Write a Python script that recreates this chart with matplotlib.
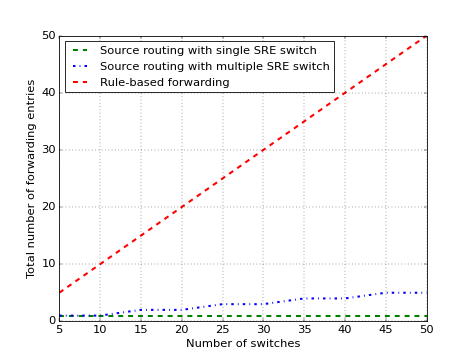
import matplotlib
matplotlib.use('Agg')
import matplotlib.pyplot as plt

switches = [5, 10, 15, 20, 25, 30, 35, 40, 45, 50]
single_sre = [1, 1, 1, 1, 1, 1, 1, 1, 1, 1]
multi_sre = [1, 1, 2, 2, 3, 3, 4, 4, 5, 5]
rule_based = [5, 10, 15, 20, 25, 30, 35, 40, 45, 50]

plt.style.use('classic')
plt.rcParams['font.size'] = 14
fig = plt.figure(figsize=(8, 357 / 59.25), dpi=59.25, facecolor='white')
ax = fig.add_subplot(111)

ax.plot(switches, single_sre, 'g--', linewidth=2.5, label='Source routing with single SRE switch')
ax.plot(switches, multi_sre, 'b-.', linewidth=2.5, label='Source routing with multiple SRE switch')
ax.plot(switches, rule_based, 'r--', linewidth=2.5, label='Rule-based forwarding')

ax.set_xlim(5, 50)
ax.set_ylim(0, 50)
ax.set_xlabel('Number of switches')
ax.set_ylabel('Total number of forwarding entries')
ax.grid(True)
ax.legend(loc='upper left', fontsize=14, handlelength=1.8, handletextpad=0.8)

fig.savefig('out.png', dpi=59.25, facecolor='white')
